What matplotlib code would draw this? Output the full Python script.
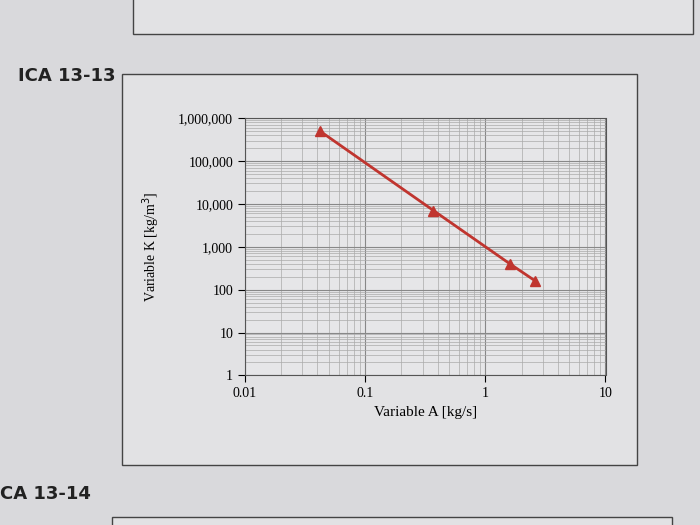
import matplotlib
matplotlib.use("Agg")
import matplotlib.pyplot as plt
from matplotlib.patches import Rectangle

# data
var_a = [0.042, 0.37, 1.6, 2.6]
var_k = [500000, 7000, 400, 160]
y_ticks = [1, 10, 100, 1000, 10000, 100000, 1000000]
y_labels = ["1", "10", "100", "1,000", "10,000", "100,000", "1,000,000"]
x_ticks = [0.01, 0.1, 1, 10]
x_labels = ["0.01", "0.1", "1", "10"]

fig = plt.figure(figsize=(7, 5.25), dpi=100)
fig.patch.set_facecolor("#d9d9dc")

# page boxes (behind the axes)
for (x0, y0, w, h) in [(0.19, 0.935, 0.8, 0.1), (0.175, 0.115, 0.735, 0.745),
                       (0.16, -0.05, 0.8, 0.065)]:
    fig.patches.append(Rectangle((x0, y0), w, h, transform=fig.transFigure,
                                 fc="#e2e2e4", ec="#444444", lw=1, zorder=-10))
fig.text(0.025, 0.845, "ICA 13-13", fontsize=13, fontweight="bold", color="#222222")
fig.text(0.0, 0.05, "CA 13-14", fontsize=13, fontweight="bold", color="#222222")

ax = fig.add_axes([0.35, 0.285, 0.515, 0.49])
ax.set_facecolor("#e6e6e8")
ax.set_xscale("log")
ax.set_yscale("log")
ax.set_xlim(0.01, 10)
ax.set_ylim(1, 1000000)
ax.grid(True, which="major", color="#888888", lw=0.8)
ax.grid(True, which="minor", color="#aaaaaa", lw=0.5)
ax.set_xticks(x_ticks)
ax.set_xticklabels(x_labels, family="Liberation Serif", fontsize=10)
ax.set_yticks(y_ticks)
ax.set_yticklabels(y_labels, family="Liberation Serif", fontsize=10)
ax.tick_params(which="minor", length=0)
ax.tick_params(which="major", direction="out", length=5)
for s in ax.spines.values():
    s.set_color("#555555")

ax.plot(var_a, var_k, color="#c0352f", lw=2, marker="^", markersize=7)
ax.set_xlabel("Variable A [kg/s]", family="Liberation Serif", fontsize=11)
ax.set_ylabel("Variable K [kg/m$^3$]", family="Liberation Serif", fontsize=10, labelpad=12)

fig.savefig("out.png", dpi=100, facecolor=fig.get_facecolor())
